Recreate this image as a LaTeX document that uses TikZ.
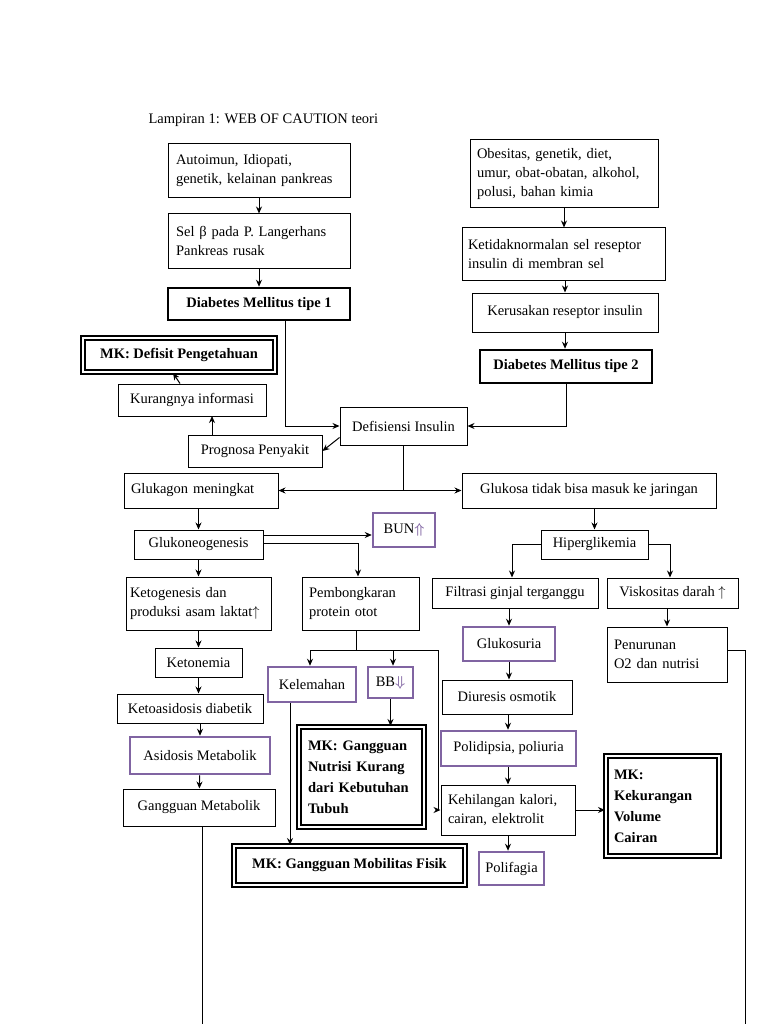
\documentclass[tikz,border=0pt]{standalone}
\usepackage{amsmath}
\usepackage{fontspec}
\setmainfont{Liberation Serif}
\usetikzlibrary{arrows.meta, positioning}
\definecolor{ungu}{RGB}{128,100,162}

\begin{document}
\begin{tikzpicture}[x=1pt, y=-1pt,
      every node/.style={font=\fontsize{14.5}{19}\selectfont},
      box/.style={draw, line width=1pt, inner sep=0pt},
      lbox/.style={box, align=left},
      pbox/.style={draw=ungu, line width=2.5pt, inner sep=0pt},
      dm/.style={draw, line width=2.5pt, inner sep=0pt, font=\fontsize{14.5}{19}\selectfont\bfseries},
      mk/.style={draw, double, line width=2pt, double distance=1.8pt, inner sep=0pt, align=left, font=\fontsize{14.5}{21}\selectfont\bfseries},
      arr/.style={-{Stealth[length=7pt, width=6pt]}, line width=1pt},
      ln/.style={line width=1pt}
    ]
    \useasboundingbox (0,0) rectangle (768,1024);
    \node[anchor=west] (title) at (145,120) {Lampiran 1: WEB OF CAUTION teori};
    % left column top
    \node[lbox, minimum width=182pt, minimum height=54pt, text width=166pt] (aut) at (259,171) {Autoimun, Idiopati,\\genetik, kelainan pankreas};
    \node[lbox, minimum width=182pt, minimum height=54pt, text width=166pt] (sel) at (259,241) {Sel β pada P. Langerhans\\Pankreas rusak};
    \node[dm, minimum width=182pt, minimum height=32pt] (dm1) at (259,304) {Diabetes Mellitus tipe 1};
    % right column top
    \node[lbox, minimum width=188pt, minimum height=68pt, text width=174pt] (obes) at (564,174) {Obesitas, genetik, diet,\\umur, obat-obatan, alkohol,\\polusi, bahan kimia};
    \node[lbox, minimum width=203pt, minimum height=52pt, text width=191pt] (ketidak) at (563.5,254) {Ketidaknormalan sel reseptor\\insulin di membran sel};
    \node[box, minimum width=186pt, minimum height=39pt] (rusak) at (565,312.5) {Kerusakan reseptor insulin};
    \node[dm, minimum width=172pt, minimum height=33pt] (dm2) at (566,366.5) {Diabetes Mellitus tipe 2};
    % middle
    \node[mk, minimum width=192pt, minimum height=34pt, align=center] (mkdefisit) at (179,355) {MK: Defisit Pengetahuan};
    \node[box, minimum width=148pt, minimum height=32pt] (kurang) at (192,400) {Kurangnya informasi};
    \node[box, minimum width=134pt, minimum height=32pt] (prognosa) at (255,451) {Prognosa Penyakit};
    \node[box, minimum width=127pt, minimum height=38pt] (defins) at (403.5,426) {Defisiensi Insulin};
    \node[lbox, minimum width=154pt, minimum height=35pt, text width=140pt] (glukagon) at (201,490.5) {Glukagon meningkat};
    \node[box, minimum width=254pt, minimum height=35pt] (glukosa) at (589,490.5) {Glukosa tidak bisa masuk ke jaringan};
    \node[box, minimum width=129pt, minimum height=29pt] (gng) at (198.5,544.5) {Glukoneogenesis};
    \node[pbox, minimum width=62pt, minimum height=34pt] (bun) at (404,530) {BUN\textcolor{ungu}{$\boldsymbol{\Uparrow}$}};
    \node[box, minimum width=107pt, minimum height=29pt] (hiper) at (594.5,544.5) {Hiperglikemia};
    % lower part
    \node[lbox, minimum width=145pt, minimum height=53pt, text width=137pt] (ketog) at (198.5,603.5) {Ketogenesis dan\\produksi asam laktat$\uparrow$};
    \node[lbox, minimum width=117pt, minimum height=53pt, text width=103pt] (bongkar) at (360.5,603.5) {Pembongkaran\\protein otot};
    \node[box, minimum width=166pt, minimum height=30pt] (filtrasi) at (515,593) {Filtrasi ginjal terganggu};
    \node[box, minimum width=131pt, minimum height=30pt] (viskos) at (672.5,593) {Viskositas darah $\uparrow$};
    \node[box, minimum width=87pt, minimum height=29pt] (ketonemia) at (198.5,662.5) {Ketonemia};
    \node[pbox, minimum width=92pt, minimum height=34pt] (glukosuria) at (509,644) {Glukosuria};
    \node[lbox, minimum width=120pt, minimum height=55pt, text width=106pt] (penurunan) at (667,654.5) {Penurunan\\O2 dan nutrisi};
    \node[pbox, minimum width=88pt, minimum height=35pt] (lemah) at (312,684.5) {Kelemahan};
    \node[pbox, minimum width=45pt, minimum height=31pt] (bb) at (390.5,682.5) {BB\textcolor{ungu}{$\boldsymbol{\Downarrow}$}};
    \node[box, minimum width=146pt, minimum height=29pt] (ketoas) at (190,708.5) {Ketoasidosis diabetik};
    \node[box, minimum width=130pt, minimum height=34pt] (diuresis) at (507,697) {Diuresis osmotik};
    \node[mk, minimum width=125pt, minimum height=100pt, text width=107pt] (mknutrisi) at (361.5,777) {MK: Gangguan\\Nutrisi Kurang\\dari Kebutuhan\\Tubuh};
    \node[pbox, minimum width=140pt, minimum height=37pt] (asidosis) at (200,755.5) {Asidosis Metabolik};
    \node[pbox, minimum width=135pt, minimum height=35pt] (polidipsia) at (508.5,748.5) {Polidipsia, poliuria};
    \node[lbox, minimum width=134pt, minimum height=50pt, text width=120pt] (kalori) at (508,810) {Kehilangan kalori,\\cairan, elektrolit};
    \node[mk, minimum width=113pt, minimum height=100pt, text width=97pt] (mkvolume) at (662.5,806) {MK:\\Kekurangan\\Volume\\Cairan};
    \node[box, minimum width=152pt, minimum height=37pt] (gmetab) at (199,807.5) {Gangguan Metabolik};
    \node[mk, minimum width=231pt, minimum height=39pt, align=center] (mkmobil) at (349.5,865.5) {MK: Gangguan Mobilitas Fisik};
    \node[pbox, minimum width=65pt, minimum height=33pt] (polifagia) at (511.5,868.5) {Polifagia};
    % free ends
    \coordinate (endL) at (202,1024);
    \coordinate (endR) at (745,1024);
    % connectors
    \draw[arr] (aut) -- (sel);
    \draw[arr] (sel) -- (dm1);
    \draw[arr] (dm1.south -| 285,0) |- (defins.west);
    \draw[arr] (obes) -- (obes |- ketidak.north);
    \draw[arr] (rusak |- ketidak.south) -- (rusak);
    \draw[arr] (rusak) -- (rusak |- dm2.north);
    \draw[arr] (dm2.south) |- (defins.east);
    \draw[arr] (defins.south west) ++(0,-8) -- (prognosa.east);
    \draw[arr] (prognosa.north -| 212,0) -- (212,416);
    \draw[arr] (kurang.north -| 180,0) -- (173,373);
    \draw[ln] (defins.south) -- (403.5,490.5);
    \draw[arr] (403.5,490.5) -- (glukagon.east);
    \draw[arr] (403.5,490.5) -- (glukosa.west);
    \draw[arr] (glukagon.south -| gng) -- (gng);
    \draw[arr] (gng.east |- 0,535) -- (bun.west |- 0,535);
    \draw[arr] (gng.east |- 0,543) -| (bongkar.north -| 358,0);
    \draw[arr] (gng) -- (gng |- ketog.north);
    \draw[arr] (ketog) -- (ketonemia);
    \draw[arr] (ketonemia) -- (ketonemia |- ketoas.north);
    \draw[arr] (ketoas.south -| asidosis) -- (asidosis);
    \draw[arr] (asidosis) -- (gmetab);
    \draw[ln] (gmetab.south -| endL) -- (endL);
    \draw[arr] (glukosa.south -| hiper) -- (hiper);
    \draw[arr] (hiper.west) -| (filtrasi.north -| 512,0);
    \draw[arr] (hiper.east) -| (viskos.north -| 670,0);
    \draw[arr] (filtrasi.south -| glukosuria) -- (glukosuria);
    \draw[arr] (glukosuria) -- (glukosuria |- diuresis.north);
    \draw[arr] (diuresis.south -| 508,0) -- (polidipsia.north -| 508,0);
    \draw[arr] (polidipsia.south -| 508,0) -- (kalori);
    \draw[arr] (kalori) -- (kalori |- polifagia.north);
    \draw[arr] (kalori.east) -- (kalori.east -| mkvolume.west);
    \draw[arr] (viskos.south -| 667,0) -- (penurunan);
    \draw[ln] (penurunan.east |- 0,650) -| (endR);
    \draw[ln] (bongkar.south -| 356,0) -- (356,650);
    \draw[arr] (310,650) -- (lemah.north -| 310,0);
    \draw[arr] (393,650) -- (bb.north -| 393,0);
    \draw[arr] (310,650) -- (438,650) -- (438,810) -- (kalori.west);
    \draw[arr] (lemah.south -| 290,0) -- (mkmobil.north -| 290,0);
    \draw[arr] (bb) -- (bb |- mknutrisi.north);
\end{tikzpicture}
\end{document}
